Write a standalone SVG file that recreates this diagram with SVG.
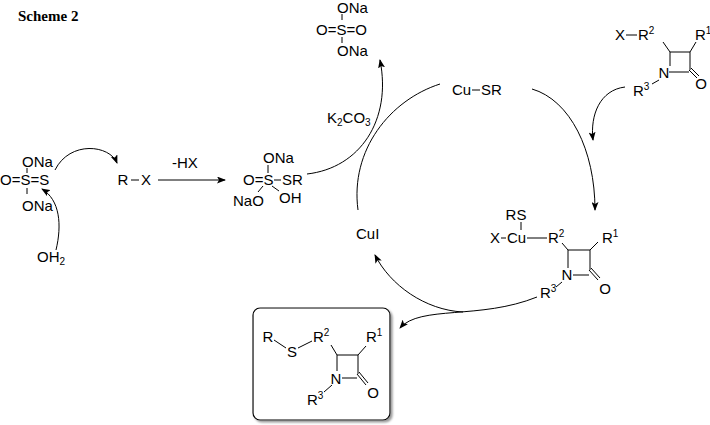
<svg xmlns="http://www.w3.org/2000/svg" width="710" height="425" viewBox="0 0 710 425">
<style>
text{font-family:"Liberation Sans",Arial,sans-serif;font-size:15px;fill:#000}
.m{text-anchor:middle}
.s{font-size:10px}
.b{stroke:#000;stroke-width:1;fill:none}
.a{stroke:#000;stroke-width:1;fill:none;marker-end:url(#ah)}
</style>
<defs><marker id="ah" markerWidth="9" markerHeight="7" refX="8" refY="3.5" orient="auto" markerUnits="userSpaceOnUse"><path d="M0,0 L9,3.5 L0,7 L2,3.5z" fill="#000"/></marker>
<filter id="sh"><feDropShadow dx="2" dy="2" stdDeviation="1" flood-color="#999"/></filter></defs>
<rect width="710" height="425" fill="#fff"/>
<text x="18" y="21" style="font-family:'Liberation Serif',serif;font-weight:bold;font-size:15px">Scheme 2</text>
<g id="thiosulfate">
<text x="22" y="167">ONa</text><text x="0" y="185">O=S=S</text><text x="22" y="211">ONa</text>
<path class="b" d="M27,168V173M27,188V194"/>
<text x="37" y="262">OH<tspan class="s" dy="3">2</tspan></text>
</g>
<g id="rx"><text class="m" x="123" y="185">R</text><path class="b" d="M131,180H139"/><text class="m" x="146" y="185">X</text><text x="172" y="168">-HX</text></g>
<g id="intermediate">
<text x="263" y="163">ONa</text><text x="243" y="185">O=S</text><path class="b" d="M268,165V173M274,180H281"/><text x="282" y="185">SR</text>
<text x="233" y="206">NaO</text><text x="279" y="203">OH</text>
<path class="b" d="M263,186L258,192M272,186L279,191"/>
</g>
<g id="sulfate"><text x="337" y="13">ONa</text><text x="316" y="35">O=S=O</text><text x="337" y="56">ONa</text>
<path class="b" d="M342,14V20M342,37V43"/></g>
<text x="327" y="123">K<tspan class="s" dy="3">2</tspan><tspan dy="-3">CO</tspan><tspan class="s" dy="3">3</tspan></text>
<g id="cusr"><text x="452" y="95">Cu</text><path class="b" d="M472,90H480"/><text x="481" y="95">SR</text></g>
<g id="cui"><text x="356" y="239">CuI</text></g>
<g id="lactam1">
<text class="m" x="620" y="40">X</text><path class="b" d="M626,35H637"/><text x="638" y="40">R<tspan class="s" dy="-6">2</tspan></text><text x="695" y="40">R<tspan class="s" dy="-6">1</tspan></text>
<path class="b" d="M670,52H690V70M690,52L696,42M670,52V66M670,52L663,42M659,80L652,84M689,70L697,78M691,68L699,76M669,72H689"/>
<text class="m" x="664" y="78">N</text><text class="m" x="701" y="89">O</text><text x="633" y="96">R<tspan class="s" dy="-6">3</tspan></text>
</g>
<g id="complex">
<text class="m" x="516" y="220">RS</text><path class="b" d="M521,222V230"/>
<text class="m" x="495" y="243">X</text><path class="b" d="M501,238H506"/><text x="507" y="243">Cu</text><path class="b" d="M527,238H547"/><text x="548" y="243">R<tspan class="s" dy="-6">2</tspan></text><text x="602" y="243">R<tspan class="s" dy="-6">1</tspan></text>
<path class="b" d="M568,250H590V270M590,250L598,242M568,250V268M568,250L562,243M562,282L556,287M589,270L598,280M591,268L600,278M573,275H589"/>
<text class="m" x="567" y="280">N</text><text class="m" x="605" y="294">O</text><text x="540" y="298">R<tspan class="s" dy="-6">3</tspan></text>
</g>
<g id="product">
<rect x="253" y="308" width="137" height="112" rx="7" fill="#fff" stroke="#000" stroke-width="1.2" filter="url(#sh)"/>
<text class="m" x="268" y="342">R</text><path class="b" d="M274,340L286,348M298,348L312,341"/><text class="m" x="292" y="357">S</text>
<text x="313" y="342">R<tspan class="s" dy="-6">2</tspan></text><text x="366" y="342">R<tspan class="s" dy="-6">1</tspan></text>
<path class="b" d="M337,355H358V374M358,355L366,346M337,355V371M337,355L331,345M332,385L324,392M357,374L366,385M359,372L368,383M342,378H357"/>
<text class="m" x="336" y="384">N</text><text class="m" x="373" y="398">O</text><text x="307" y="405">R<tspan class="s" dy="-6">3</tspan></text>
</g>
<g id="connectors">
<path class="a" d="M55,170C70,140 110,145 117,163"/>
<path class="a" d="M56,250C62,225 60,200 42,189"/>
<path class="a" d="M158,180H225"/>
<path class="a" d="M307,174C360,168 392,120 380,60"/>
<path class="b" d="M358,210C350,150 390,100 440,84"/>
<path class="a" d="M532,89C570,100 595,150 595,210"/>
<path class="a" d="M625,87C600,90 590,115 593,140"/>
<path class="a" d="M463,312C425,310 390,285 375,255"/>
<path class="a" d="M537,297C480,320 420,305 400,328"/>
</g>
</svg>
